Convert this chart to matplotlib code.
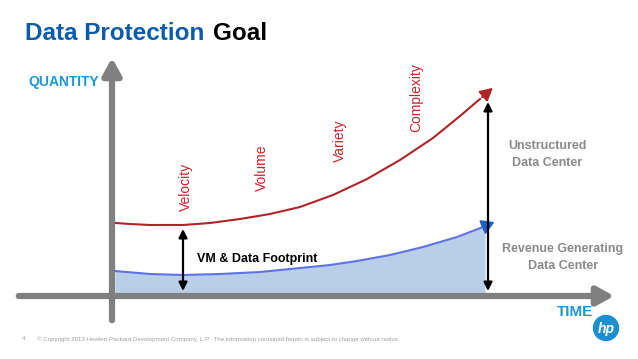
import matplotlib.pyplot as plt
from matplotlib.patches import Circle

plt.rcParams['font.family'] = ['Liberation Sans', 'DejaVu Sans']

# slide is laid out in pixel units: x = time, y = quantity (drawn downward)
red_t = [116, 130, 150, 183, 210, 240, 270, 300, 333, 367, 400, 433, 460, 480, 495]
red_q = [223, 224, 225, 225, 223, 219, 214, 207, 195, 179, 160, 138, 116, 99, 86]

blue_t = [115, 150, 183, 220, 260, 300, 330, 357, 390, 423, 457, 483, 497]
blue_q = [271, 274, 275, 274, 272, 268, 265, 261, 255, 247, 237, 227, 221]
fill_end = 485
baseline = 295

drivers = ["Velocity", "Volume", "Variety", "Complexity"]
driver_x = [186, 262, 340, 416]
driver_y = [187, 168, 141, 98]

fig = plt.figure(figsize=(6.38, 3.59), dpi=100)
ax = fig.add_axes([0, 0, 1, 1])
ax.set_xlim(0, 638)
ax.set_ylim(359, 0)
ax.axis('off')

# filled area under the blue curve
ft = [t for t in blue_t if t <= fill_end] + [fill_end]
fq = [q for t, q in zip(blue_t, blue_q) if t <= fill_end] + [226]
ax.fill_between(ft, fq, baseline, color='#b9cfe9', lw=0, zorder=1)

# curves
ax.plot(red_t[:-1], red_q[:-1], color='#b02428', lw=1.5, zorder=3,
        solid_joinstyle='round')
ax.annotate('', xy=(red_t[-1], red_q[-1]), xytext=(red_t[-2], red_q[-2]),
            arrowprops=dict(arrowstyle='-|>,head_length=0.75,head_width=0.4',
                            color='#b02428', lw=1.5), zorder=3)
ax.plot(blue_t[:-1], blue_q[:-1], color='#5f72e6', lw=1.5, zorder=3,
        solid_joinstyle='round')
ax.annotate('', xy=(blue_t[-1], blue_q[-1]), xytext=(blue_t[-2], blue_q[-2]),
            arrowprops=dict(arrowstyle='-|>,head_length=0.75,head_width=0.45',
                            color='#1d5fc4', lw=1.5), zorder=3)

# gray axes
axis_kw = dict(arrowstyle='-|>,head_length=1.0,head_width=0.55', color='#808080', lw=4.5)
ax.annotate('', xy=(112, 55), xytext=(112, 323), arrowprops=axis_kw, zorder=2)
ax.annotate('', xy=(617, 296), xytext=(16, 296), arrowprops=axis_kw, zorder=2)

# black double arrows
dbl = dict(arrowstyle='<|-|>,head_length=0.5,head_width=0.25', color='black', lw=1.6,
           shrinkA=0, shrinkB=0)
ax.annotate('', xy=(183, 229), xytext=(183, 291), arrowprops=dbl, zorder=4)
ax.annotate('', xy=(488, 102), xytext=(488, 291), arrowprops=dbl, zorder=4)

# texts
ax.text(25, 33, "Data Protection", color='#0b5cab', fontsize=17.5, fontweight='bold',
        va='center', ha='left')
ax.text(213, 33, "Goal", color='black', fontsize=17.5, fontweight='bold',
        va='center', ha='left')
ax.text(28, 82, "QUANTITY", color='#1a98d5', fontsize=10, fontweight='bold', va='center')
ax.text(593, 312, "TIME", color='#1a98d5', fontsize=11, fontweight='bold',
        va='center', ha='right')

for name, x, y in zip(drivers, driver_x, driver_y):
    ax.text(x, y, name, color='#cc2229', fontsize=10, rotation=90,
            ha='center', va='center')

ax.text(197, 259, "VM & Data Footprint", color='black', fontsize=9, fontweight='bold',
        va='center', ha='left')
ax.text(547, 154.5, "Unstructured\nData Center", color='#8a8a8a', fontsize=9,
        fontweight='bold', ha='center', va='center', linespacing=1.55)
ax.text(563, 257.5, "Revenue Generating\nData Center", color='#8a8a8a', fontsize=9,
        fontweight='bold', ha='center', va='center', linespacing=1.55)

# hp logo
ax.add_patch(Circle((606, 328), 12.5, color='#1b8fd2', zorder=5))
ax.text(606, 328.5, "hp", color='white', fontsize=10, fontweight='bold', style='italic',
        ha='center', va='center', zorder=6)

# footer
ax.text(22, 339, "4", color='#a0a0a0', fontsize=4.5, va='center')
ax.text(37, 339, "\u00a9 Copyright 2013 Hewlett-Packard Development Company, L.P.  "
        "The information contained herein is subject to change without notice.",
        color='#a0a0a0', fontsize=4.45, va='center')

fig.savefig('out.png', dpi=100, facecolor='white')
